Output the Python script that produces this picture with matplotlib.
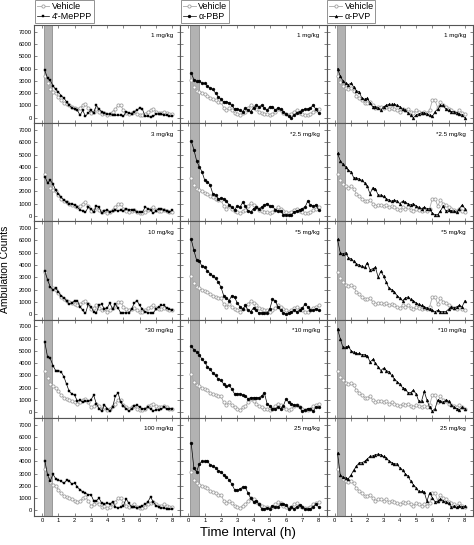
import matplotlib
matplotlib.use('Agg')
import matplotlib.pyplot as plt
import numpy as np

plt.rcParams['font.family'] = ['Liberation Sans', 'DejaVu Sans']

# ---------------- data ----------------
time_h = np.arange(1, 49) / 6.0  # 10-min bins, 0.17 .. 8 h

drug_names = ["4'-MePPP", "α-PBP", "α-PVP"]
drug_markers = ['s', 'o', '^']

dose_labels = [
    ["1 mg/kg", "3 mg/kg", "10 mg/kg", "*30 mg/kg", "100 mg/kg"],
    ["1 mg/kg", "*2.5 mg/kg", "*5 mg/kg", "*10 mg/kg", "25 mg/kg"],
    ["1 mg/kg", "*2.5 mg/kg", "*5 mg/kg", "*10 mg/kg", "25 mg/kg"],
]

vehicle_mepp = [3400, 2800, 2300, 2100, 2000, 1700,
                1400, 1200, 1100, 1000, 900, 800,
                700, 800, 1000, 1100, 800, 400,
                500, 700, 500, 300, 400, 200,
                300, 500, 700, 1000, 1000, 600,
                400, 300, 400, 500, 300, 200,
                200, 300, 500, 600, 700, 500,
                400, 400, 500, 400, 300, 300]

vehicle_pbp = [3100, 2500, 2200, 2100, 2000, 1900,
               1800, 1600, 1500, 1400, 1300, 1300,
               800, 600, 800, 600, 400, 300,
               200, 400, 500, 800, 1050, 900,
               700, 500, 400, 300, 300, 200,
               300, 500, 700, 600, 400, 300,
               200, 300, 500, 600, 400, 300,
               200, 200, 300, 500, 600, 700]

vehicle_pvp = [3400, 2900, 2600, 2400, 2300, 2400,
               2200, 1800, 1600, 1400, 1200, 1200,
               1300, 1000, 800, 900, 900, 800,
               900, 700, 800, 700, 600, 500,
               700, 600, 700, 500, 400, 600,
               500, 400, 500, 400, 600, 1400,
               1400, 800, 1300, 1000, 900, 700,
               600, 500, 400, 600, 400, 300]

mepp_1 = [3850, 3200, 3050, 2600, 2300, 2100,
          1800, 1600, 1300, 1000, 800, 700,
          600, 200, 600, 100, 400, 600,
          400, 1000, 700, 500, 400, 300,
          300, 200, 200, 200, 200, 100,
          500, 400, 300, 500, 600, 800,
          700, 100, 100, 50, 100, 300,
          300, 300, 200, 200, 100, 100]
mepp_3 = [3200, 2700, 2900, 2600, 2100, 1800,
          1500, 1300, 1100, 1000, 950, 900,
          700, 500, 400, 300, 700, 600,
          300, 800, 700, 200, 400, 500,
          300, 400, 500, 400, 500, 400,
          600, 500, 500, 500, 300, 300,
          300, 700, 600, 500, 200, 400,
          600, 600, 500, 400, 300, 500]
mepp_10 = [3500, 2800, 2200, 2000, 2100, 1800,
           1500, 1300, 1100, 800, 900, 1100,
           1100, 600, 300, 50, 800, 600,
           200, 100, 700, 800, 400, 500,
           900, 400, 800, 500, 100, 100,
           100, 100, 400, 900, 1100, 700,
           400, 200, 100, 100, 100, 400,
           600, 700, 700, 500, 400, 300]
mepp_30 = [5700, 4500, 4400, 3800, 3400, 3400,
           3300, 2900, 2300, 1700, 1500, 1400,
           900, 1000, 800, 900, 900, 1000,
           1400, 700, 300, 100, 600, 300,
           100, 400, 1300, 1600, 800, 500,
           300, 100, 300, 500, 600, 400,
           300, 300, 400, 300, 100, 200,
           200, 300, 400, 300, 300, 300]
mepp_100 = [4050, 2900, 2400, 2950, 2600, 2450,
            2400, 2200, 2450, 2400, 2150, 2250,
            1900, 1700, 1500, 1400, 1300, 1300,
            800, 800, 1000, 600, 500, 600,
            500, 700, 300, 200, 300, 400,
            950, 600, 300, 300, 200, 300,
            400, 500, 700, 1100, 700, 400,
            300, 200, 200, 100, 100, 100]

pbp_1 = [3650, 3100, 2950, 3000, 2800, 2800,
         2600, 2400, 2300, 2000, 1700, 1500,
         1300, 1300, 1200, 1000, 700, 700,
         600, 500, 800, 600, 500, 800,
         1000, 900, 1000, 800, 600, 900,
         900, 600, 800, 700, 500, 300,
         100, 0, 200, 400, 500, 600,
         700, 700, 800, 1000, 700, 400]
pbp_25 = [6100, 5400, 4500, 4000, 3600, 2900,
          2800, 2500, 1800, 1700, 1400, 1450,
          1400, 1200, 900, 700, 500, 800,
          700, 1100, 800, 400, 300, 600,
          700, 600, 700, 900, 1000, 800,
          800, 500, 400, 400, 100, 100,
          50, 100, 300, 400, 500, 600,
          700, 1200, 900, 800, 900, 500]
pbp_5 = [6100, 5200, 4400, 4300, 3900, 3800,
         3500, 3300, 3100, 2900, 2600, 2200,
         1500, 1300, 1100, 1500, 1400, 900,
         600, 400, 700, 300, 200, 500,
         300, 100, 100, 100, 100, 400,
         1200, 1100, 600, 300, 100, 0,
         100, 200, 300, 200, 300, 500,
         800, 600, 300, 300, 400, 300]
pbp_10 = [5400, 5100, 4900, 4700, 4300, 4100,
          3700, 3500, 3200, 3000, 2700, 2600,
          2300, 2100, 2200, 1900, 1500, 1500,
          1500, 1400, 1300, 1100, 1200, 1200,
          1200, 1200, 1300, 1600, 700, 500,
          300, 300, 400, 300, 500, 1100,
          800, 700, 600, 600, 400, 100,
          200, 300, 300, 100, 400, 400]
pbp_25b = [5500, 3450, 3150, 3800, 4000, 4000,
           4050, 3700, 3600, 3500, 3250, 3150,
           2900, 2700, 2500, 2150, 1700, 1650,
           1750, 1900, 1900, 1400, 1000, 700,
           800, 500, 150, 100, 200, 150,
           350, 300, 300, 500, 550, 450,
           150, 250, 150, 300, 450, 300,
           150, 100, 150, 300, 500, 300]

pvp_1 = [4000, 3400, 3000, 2800, 2700, 2800,
         2500, 2200, 2100, 1600, 1500, 1600,
         1200, 900, 900, 800, 600, 900,
         1000, 1100, 1100, 1100, 1000, 900,
         700, 600, 400, 200, 0, 200,
         300, 400, 400, 300, 200, 100,
         500, 700, 1000, 1000, 700, 600,
         500, 500, 400, 300, 200, 0]
pvp_25 = [5100, 4500, 4200, 4000, 3700, 3600,
          3100, 3100, 3000, 2900, 2700, 2400,
          1800, 2300, 2200, 1700, 1700, 1600,
          1400, 1300, 1200, 1300, 1200, 1000,
          1200, 1100, 1000, 900, 1000, 800,
          700, 600, 700, 600, 600, 200,
          100, 100, 400, 800, 400, 500,
          400, 400, 300, 600, 900, 600]
pvp_5 = [6100, 5000, 4900, 5000, 4600, 4500,
         4300, 4100, 4000, 3900, 3800, 4200,
         3600, 3700, 3800, 3000, 3500, 3100,
         2600, 2100, 2000, 1800, 1500, 1300,
         1100, 1300, 1400, 1200, 1100, 900,
         800, 700, 600, 500, 400, 300,
         200, 300, 200, 200, 200, 400,
         600, 500, 600, 700, 600, 1100]
pvp_10 = [6800, 6000, 5300, 5300, 5400, 5000,
          4900, 4800, 4800, 4700, 4700, 4600,
          4100, 4300, 4000, 3700, 3400, 3600,
          3400, 3300, 3000, 2700, 2500, 2300,
          2000, 1900, 1600, 1600, 1800, 1500,
          900, 900, 1700, 1000, 400, 100,
          300, 1000, 900, 800, 1000, 900,
          600, 400, 300, 200, 400, 300]
pvp_25b = [4700, 2900, 2700, 2650, 2600, 2900,
           3300, 3600, 3900, 3900, 4000, 4200,
           4400, 4450, 4550, 4600, 4550, 4400,
           4250, 4050, 3900, 3800, 3800, 3450,
           3300, 3000, 2800, 2400, 2100, 1850,
           1550, 1550, 1500, 750, 1450, 1050,
           700, 750, 950, 750, 700, 600,
           250, 350, 250, 350, 300, 350]

vehicles = [vehicle_mepp, vehicle_pbp, vehicle_pvp]
drugs = [
    [mepp_1, mepp_3, mepp_10, mepp_30, mepp_100],
    [pbp_1, pbp_25, pbp_5, pbp_10, pbp_25b],
    [pvp_1, pvp_25, pvp_5, pvp_10, pvp_25b],
]

x_ticks = list(range(0, 9))
y_ticks = list(range(0, 7001, 1000))

# ---------------- figure ----------------
fig, axes = plt.subplots(5, 3, figsize=(4.74, 5.45), dpi=100, sharex=True, sharey=True)
fig.subplots_adjust(left=34/474, right=473/474, top=1-25/545, bottom=1-516/545,
                    wspace=0, hspace=0)

spine_col = '#555555'
for c in range(3):
    for r in range(5):
        ax = axes[r, c]
        ax.axvspan(0.12, 0.62, facecolor='#b2b2b2', edgecolor='#808080', lw=0.5, zorder=0)
        ax.plot(time_h, vehicles[c], color='#a8a8a8', lw=0.6, marker='o', ms=2.3,
                mfc='white', mec='#a0a0a0', mew=0.6, label='Vehicle', zorder=2)
        ax.plot(time_h, drugs[c][r], color='black', lw=0.5, marker=drug_markers[c],
                ms=2.1, mfc='black', mec='black', mew=0.3, label=drug_names[c], zorder=3)
        ax.set_xlim(-0.5, 8.5)
        ax.set_ylim(-450, 7550)
        ax.set_xticks(x_ticks)
        ax.set_yticks(y_ticks)
        ax.tick_params(direction='in', top=True, right=True, length=2, width=0.5,
                       labelsize=4.2, pad=1.5, color=spine_col)
        for s in ax.spines.values():
            s.set_color(spine_col)
            s.set_linewidth(0.8)
        ax.text(0.952, 0.888, dose_labels[c][r], transform=ax.transAxes,
                ha='right', va='center', fontsize=4.5)
        if r == 0:
            leg = ax.legend(loc='lower left', bbox_to_anchor=(0.005, 1.025),
                            fontsize=6.5, frameon=True, fancybox=False,
                            edgecolor='#777777', handlelength=1.4, handletextpad=0.3,
                            borderpad=0.2, labelspacing=0.1, borderaxespad=0)
            leg.get_frame().set_linewidth(0.7)

fig.text(0.011, 0.506, 'Ambulation Counts', rotation=90, fontsize=7.5,
         ha='center', va='center')
fig.text(0.523, 0.022, 'Time Interval (h)', fontsize=9.5, ha='center', va='center')

fig.savefig('out.png', dpi=100)
